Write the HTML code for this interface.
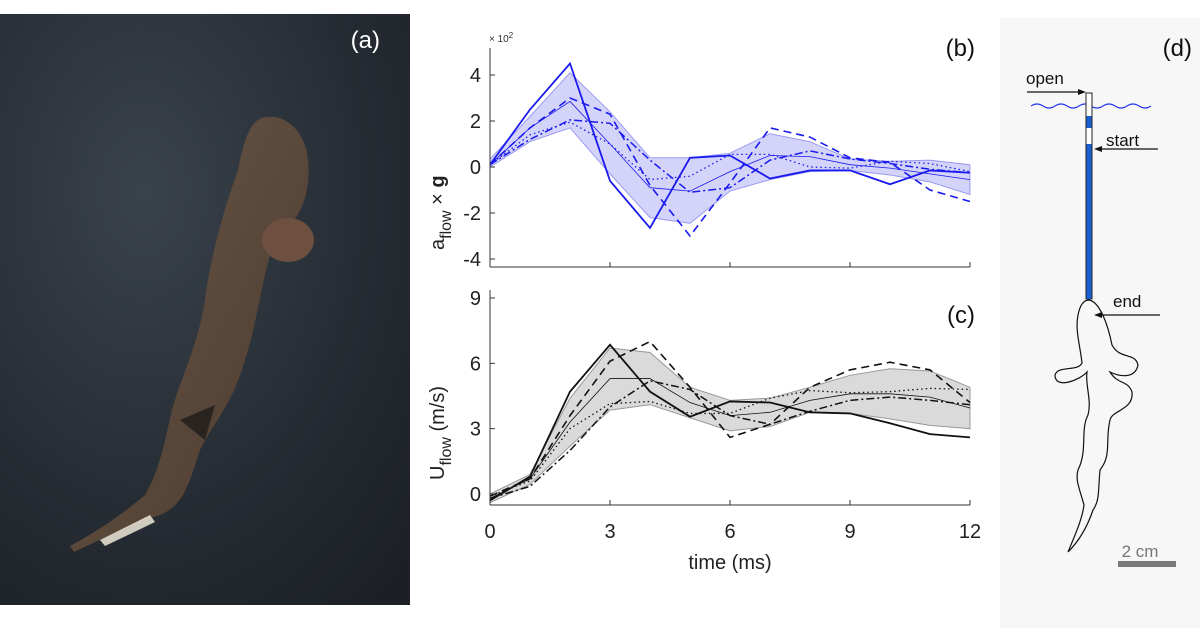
<!DOCTYPE html>
<html><head><meta charset="utf-8"><style>
body{margin:0;background:#fff;width:1200px;height:640px;overflow:hidden;font-family:"Liberation Sans",sans-serif}
svg{position:absolute;left:0;top:0}
</style></head><body>
<svg id="fig" width="1200" height="640" viewBox="0 0 1200 640">
<defs>
<radialGradient id="bgA" cx="0.35" cy="0.3" r="0.9">
<stop offset="0" stop-color="#3a424c"/><stop offset="0.6" stop-color="#262c33"/><stop offset="1" stop-color="#1c2026"/>
</radialGradient>
<linearGradient id="fishG" x1="0" y1="0" x2="1" y2="1">
<stop offset="0" stop-color="#6b5848"/><stop offset="1" stop-color="#4a3a2e"/>
</linearGradient>
</defs>
<g>
<rect x="0" y="14" width="410" height="591" fill="url(#bgA)"/>
<path d="M262,118 C282,112 305,128 308,160 C312,200 295,225 275,240 C262,275 258,320 245,360 C232,405 215,420 200,450 C190,480 185,505 160,515 C130,525 100,540 74,552 L70,546 C100,530 125,512 145,495 C160,470 165,440 172,410 C180,380 198,345 205,300 C210,260 222,215 238,170 C244,140 250,122 262,118 Z" fill="url(#fishG)"/>
<path d="M180,420 L215,405 L205,440 Z" fill="#2a2420"/>
<ellipse cx="288" cy="240" rx="26" ry="22" fill="#6d5040"/>
<path d="M100,540 L150,515 L155,522 L105,546 Z" fill="#eee8d8" opacity="0.85"/>
<text x="380" y="48" font-size="24" fill="#fff" text-anchor="end">(a)</text>
</g>
<g>
<rect x="1000" y="18" width="200" height="610" fill="#f7f7f7"/>
<text x="1192" y="56" font-size="24" text-anchor="end" fill="#111">(d)</text>
<text x="1026" y="84" font-size="17" fill="#111">open</text>
<line x1="1027" y1="92" x2="1080" y2="92" stroke="#111" stroke-width="1.2"/>
<path d="M1086,92 l-8,-3 v6 z" fill="#111"/>
<path d="M1031,106 q6,-4 12,0 t12,0 t12,0 t12,0 t12,0 t12,0 t12,0 t12,0 t12,0 t12,0" fill="none" stroke="#2233ee" stroke-width="1.2"/>
<rect x="1086" y="93" width="6" height="206" fill="#fff" stroke="#222" stroke-width="1"/>
<rect x="1086.5" y="116" width="5" height="12" fill="#1a5fd0"/>
<rect x="1086.5" y="144" width="5" height="155" fill="#1a5fd0"/>
<text x="1106" y="146" font-size="17" fill="#111">start</text>
<line x1="1100" y1="149" x2="1158" y2="149" stroke="#111" stroke-width="1.2"/>
<path d="M1094,149 l8,-3 v6 z" fill="#111"/>
<text x="1113" y="307" font-size="17" fill="#111">end</text>
<line x1="1100" y1="315" x2="1160" y2="315" stroke="#111" stroke-width="1.2"/>
<path d="M1094,315 l8,-3 v6 z" fill="#111"/>
<path d="M1089,300 C1100,302 1108,325 1112,345 C1120,360 1135,352 1138,365 C1135,380 1118,376 1110,372 C1118,385 1128,380 1132,392 C1134,410 1112,410 1110,420 C1105,440 1112,455 1100,470 C1098,490 1100,500 1093,510 C1088,525 1080,540 1068,552 C1075,535 1082,520 1084,505 C1080,490 1075,480 1078,470 C1088,450 1080,430 1088,415 C1092,400 1085,385 1087,372 C1080,380 1055,390 1055,375 C1058,365 1078,372 1082,363 C1080,345 1075,330 1078,315 C1080,305 1084,300 1089,300 Z" fill="none" stroke="#111" stroke-width="1.2"/>
<text x="1140" y="557" font-size="17" fill="#777" text-anchor="middle">2 cm</text>
<rect x="1118" y="561" width="58" height="6" fill="#7a7a7a"/>
</g>
<g id="chartB"></g>
<g id="chartC"></g>
</svg>
<script>
const times = [0,1,2,3,4,5,6,7,8,9,10,11,12];
const xTicks = [0,3,6,9,12];
const bTicks = [4,2,0,-2,-4];
const cTicks = [9,6,3,0];
const bSolid = [0.1,2.5,4.5,-0.6,-2.65,0.4,0.5,-0.5,-0.15,-0.15,-0.75,-0.15,-0.25];
const bDashed = [0.1,1.7,3.0,2.3,-0.8,-3.0,-0.7,1.7,1.3,0.4,0.2,-1.0,-1.5];
const bDashDot = [0.1,1.2,2.05,1.9,0.3,-1.1,-0.9,0.3,0.7,0.35,0.15,-0.1,-0.25];
const bDotted = [0.1,1.4,1.95,1.0,-0.55,-0.4,0.55,0.55,0.0,-0.05,0.25,0.15,-0.2];
const bMean = [0.1,1.7,2.85,1.0,-0.9,-1.05,-0.2,0.5,0.45,0.1,-0.05,-0.3,-0.55];
const bUpper = [0.35,2.2,4.1,2.4,0.4,0.4,0.6,1.45,1.1,0.35,0.25,0.3,0.1];
const bLower = [0.0,1.1,1.7,-0.3,-2.2,-2.45,-1.05,-0.55,-0.2,-0.15,-0.35,-0.65,-1.2];
const cSolid = [-0.3,0.8,4.7,6.85,4.7,3.55,4.25,4.2,3.75,3.7,3.25,2.75,2.6];
const cDashed = [-0.1,0.7,3.6,6.1,7.0,4.9,2.6,3.2,4.9,5.7,6.05,5.7,4.2];
const cDashDot = [-0.2,0.35,2.0,4.0,5.2,4.8,3.6,3.2,3.8,4.3,4.45,4.3,4.1];
const cDotted = [-0.1,0.6,3.0,4.15,4.25,3.7,3.7,4.4,4.75,4.65,4.7,4.85,4.8];
const cMean = [-0.2,0.7,3.3,5.3,5.3,4.2,3.6,3.75,4.3,4.6,4.6,4.45,3.95];
const cUpper = [0,0.9,4.4,6.7,6.5,4.9,4.3,4.4,4.9,5.45,5.75,5.65,4.9];
const cLower = [-0.4,0.45,2.2,3.85,4.1,3.5,2.9,3.1,3.75,3.7,3.45,3.15,3.0];

const NS='http://www.w3.org/2000/svg';
function el(tag, attrs, parent){const e=document.createElementNS(NS,tag);for(const k in attrs)e.setAttribute(k,attrs[k]);parent.appendChild(e);return e;}
const X0=490,X1=970;
function xs(t){return X0+(t-0)/(12-0)*(X1-X0);}

function panel(g, opt){
  const ys=v=>opt.y0+(v-opt.v0)*(opt.y1-opt.y0)/(opt.v1-opt.v0);
  let d='';
  times.forEach((t,i)=>{d+=(i?'L':'M')+xs(t)+','+ys(opt.upper[i]);});
  for(let i=times.length-1;i>=0;i--)d+='L'+xs(times[i])+','+ys(opt.lower[i]);
  const band=el('path',{d:d+'Z',fill:opt.bandFill,stroke:opt.bandStroke,'stroke-width':1},g);
  
  
  const series=[['mean',opt.mean,0.8,''],['dotted',opt.dotted,1.3,'1.5,3'],['dash-dot',opt.dashdot,1.5,'8,3,2,3'],['dashed',opt.dashed,1.6,'8,5'],['solid',opt.solid,1.8,'']];
  series.forEach(s=>{
    const p=el('polyline',{points:times.map((t,i)=>xs(t)+','+ys(s[1][i])).join(' '),fill:'none',stroke:opt.color,'stroke-width':s[2]},g);
    if(s[3])p.setAttribute('stroke-dasharray',s[3]);
    
    
  });
  const ax=el('g',{},g);
  
  
  el('line',{x1:X0,y1:opt.top,x2:X0,y2:opt.axisY,stroke:'#333','stroke-width':1},ax);
  el('line',{x1:X0,y1:opt.axisY,x2:X1,y2:opt.axisY,stroke:'#333','stroke-width':1},ax);
  opt.ticks.forEach(v=>{
    el('line',{x1:X0,y1:ys(v),x2:X0+5,y2:ys(v),stroke:'#333'},ax);
    const tx=el('text',{x:X0-9,y:ys(v)+7,'font-size':20,'text-anchor':'end',fill:'#222'},ax);
    tx.textContent=v;
    
    
  });
  xTicks.forEach(t=>{
    el('line',{x1:xs(t),y1:opt.axisY,x2:xs(t),y2:opt.axisY-5,stroke:'#333'},ax);
    if(opt.xLabels){
      const tx=el('text',{x:xs(t),y:opt.axisY+33,'font-size':20,'text-anchor':'middle',fill:'#222'},ax);
      tx.textContent=t;
      
      
    }
  });
}
const gB=document.getElementById('chartB'), gC=document.getElementById('chartC');
panel(gB,{id:'panel-b',v0:4,v1:-4,y0:75,y1:259,top:48,axisY:267,ticks:bTicks,color:'#1a1aee',bandFill:'rgba(60,60,230,0.22)',bandStroke:'rgba(60,60,230,0.45)',solid:bSolid,dashed:bDashed,dashdot:bDashDot,dotted:bDotted,mean:bMean,upper:bUpper,lower:bLower,xLabels:false});
panel(gC,{id:'panel-c',v0:9,v1:0,y0:298,y1:494,top:290,axisY:505,ticks:cTicks,color:'#111',bandFill:'rgba(150,150,150,0.35)',bandStroke:'#999',solid:cSolid,dashed:cDashed,dashdot:cDashDot,dotted:cDotted,mean:cMean,upper:cUpper,lower:cLower,xLabels:true});

function txt(g,attrs,content,name){const t=el('text',attrs,g);t.innerHTML=content;return t;}
txt(gB,{x:489,y:42,'font-size':10,fill:'#333'},'× 10<tspan dy="-4" font-size="8">2</tspan>','panel-b-exponent');
txt(gB,{x:975,y:56,'font-size':24,'text-anchor':'end',fill:'#111'},'(b)','panel-b-label');
txt(gB,{transform:'translate(444,250) rotate(-90)','font-size':20,fill:'#222'},'a<tspan dy="7" font-size="16">flow</tspan><tspan dy="-7"> × </tspan><tspan font-weight="bold">g</tspan>','panel-b-y-axis-title');
txt(gC,{x:975,y:323,'font-size':24,'text-anchor':'end',fill:'#111'},'(c)','panel-c-label');
txt(gC,{transform:'translate(444,480) rotate(-90)','font-size':20,fill:'#222'},'U<tspan dy="7" font-size="16">flow</tspan><tspan dy="-7"> (m/s)</tspan>','panel-c-y-axis-title');
txt(gC,{x:730,y:569,'font-size':20,'text-anchor':'middle',fill:'#222'},'time (ms)','x-axis-title');
</script>
</body></html>
